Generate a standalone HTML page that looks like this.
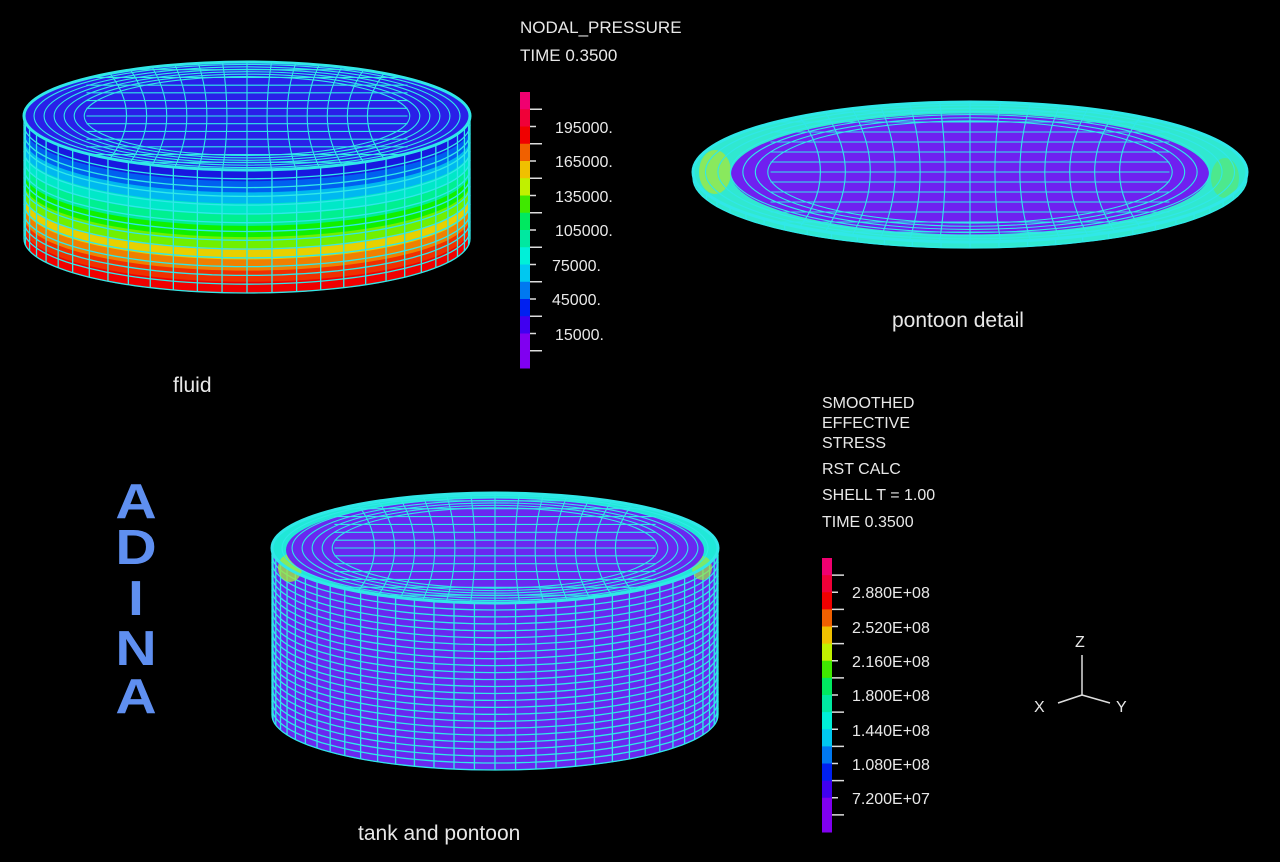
<!DOCTYPE html>
<html><head><meta charset="utf-8"><style>
html,body{margin:0;padding:0;background:#000;width:1280px;height:862px;overflow:hidden}
svg{display:block}
text{font-family:"Liberation Sans",sans-serif;fill:#e8e8e8}
</style></head><body>
<svg id="s" width="1280" height="862" xmlns="http://www.w3.org/2000/svg">
<rect width="1280" height="862" fill="#000"/>
<g id="g"></g>
<text x="520" y="33" font-size="17">NODAL_PRESSURE</text>
<text x="520" y="61" font-size="17">TIME 0.3500</text>
<text x="173" y="392" font-size="21">fluid</text>
<text x="892" y="327" font-size="21">pontoon detail</text>
<text x="358" y="840" font-size="21">tank and pontoon</text>
<text x="822" y="408" font-size="16">SMOOTHED</text>
<text x="822" y="428" font-size="16">EFFECTIVE</text>
<text x="822" y="448" font-size="16">STRESS</text>
<text x="822" y="474" font-size="16">RST CALC</text>
<text x="822" y="500" font-size="16">SHELL T = 1.00</text>
<text x="822" y="527" font-size="16">TIME 0.3500</text>
<g font-size="16">
<text x="555" y="133">195000.</text><text x="555" y="167">165000.</text>
<text x="555" y="202">135000.</text><text x="555" y="236">105000.</text>
<text x="552" y="271">75000.</text><text x="552" y="305">45000.</text>
<text x="555" y="340">15000.</text>
<text x="852" y="598">2.880E+08</text><text x="852" y="633">2.520E+08</text>
<text x="852" y="667">2.160E+08</text><text x="852" y="701">1.800E+08</text>
<text x="852" y="736">1.440E+08</text><text x="852" y="770">1.080E+08</text>
<text x="852" y="804">7.200E+07</text>
</g>
<g font-family="Liberation Sans" font-weight="bold" font-size="44" text-anchor="middle">
<text transform="translate(136,518) scale(1.3,1.12)" style="fill:#5f8ff0">A</text>
<text transform="translate(136,564) scale(1.3,1.12)" style="fill:#5f8ff0">D</text>
<text transform="translate(136,615) scale(1.3,1.12)" style="fill:#5f8ff0">I</text>
<text transform="translate(136,665) scale(1.3,1.12)" style="fill:#5f8ff0">N</text>
<text transform="translate(136,713) scale(1.3,1.12)" style="fill:#5f8ff0">A</text>
</g>
<g stroke="#ddd" stroke-width="1.5" fill="none">
<line x1="1082" y1="695" x2="1082" y2="655"/><line x1="1082" y1="695" x2="1058" y2="703"/><line x1="1082" y1="695" x2="1110" y2="703"/>
</g>
<text x="1075" y="647" font-size="16">Z</text>
<text x="1034" y="712" font-size="16">X</text>
<text x="1116" y="712" font-size="16">Y</text>
</svg>
<script>
(function(){
var g=document.getElementById('g'),NS='http://www.w3.org/2000/svg';
function el(t,a,parent){var e=document.createElementNS(NS,t);for(var k in a)e.setAttribute(k,a[k]);(parent||g).appendChild(e);return e;}
var C='#30e8e8';
function arc(cx,cy,rx,ry,n){var p=[];for(var i=0;i<=n;i++){var t=Math.PI*i/n;p.push([cx+rx*Math.cos(t),cy+ry*Math.sin(t)]);}return p;}
function pts(a){return a.map(function(q){return q[0].toFixed(1)+','+q[1].toFixed(1)}).join(' ');}
function side(cx,cy,rx,ry,h,bands,nv,nh){
 var nb=bands.length;
 for(var i=0;i<nb;i++){var y0=cy+h*i/nb,y1=cy+h*(i+1)/nb+0.5;
  var a=arc(cx,y0,rx,ry,60),b=arc(cx,y1,rx,ry,60).reverse();
  el('polygon',{points:pts(a.concat(b)),fill:bands[i]});}
 for(var j=0;j<=nh;j++){el('polyline',{points:pts(arc(cx,cy+h*j/nh,rx,ry,60)),fill:'none',stroke:C,'stroke-width':1.3});}
 for(var k=0;k<=nv;k++){var t=Math.PI*k/nv,x=cx+rx*Math.cos(t),y=cy+ry*Math.sin(t);
  el('line',{x1:x,y1:y,x2:x,y2:y+h,stroke:C,'stroke-width':1.3});}
}
function drawTop(cx,cy,rx,ry,fill,ring,ringW,extra){
 el('ellipse',{cx:cx,cy:cy,rx:rx,ry:ry,fill:ring||fill});
 if(extra)extra();
 if(ring)el('ellipse',{cx:cx,cy:cy+2,rx:rx-ringW,ry:ry-ringW*ry/rx,fill:fill});
 var id='c'+Math.round(cx)+'_'+Math.round(cy);
 var cp=el('clipPath',{id:id});
 el('ellipse',{cx:cx,cy:cy,rx:rx,ry:ry},cp);
 var gg=el('g',{'clip-path':'url(#'+id+')',stroke:C,'stroke-width':1.1,fill:'none'});
 for(var i=1;i<=6;i++){var s=1-i*0.045;el('ellipse',{cx:cx,cy:cy,rx:rx*s,ry:ry*s},gg);}
 for(var y=cy-ry;y<cy+ry;y+=ry/7){el('line',{x1:cx-rx*0.72,x2:cx+rx*0.72,y1:y,y2:y},gg);}
 for(var k=-6;k<=6;k++){var x=cx+k*rx*0.11,b=k*rx*0.02;
  el('path',{d:'M'+x+','+(cy-ry)+' Q'+(x-b*2)+','+cy+' '+x+','+(cy+ry)},gg);}
 el('ellipse',{cx:cx,cy:cy,rx:rx,ry:ry,fill:'none',stroke:C,'stroke-width':3});
}
side(247,116,223,54,123,['#1818e0','#0060f0','#00b8f0','#00e8c8','#00f090','#10f000','#70f000','#e8d000','#f08000','#f03000','#f00000'],28,14);
drawTop(247,116,223,54,'#2a20e8');
side(970,172,277,70,6,['#30e8d0'],30,1);
drawTop(970,172,277,70,'#7020f0','#30e8d0',38,function(){
 el('ellipse',{cx:715,cy:172,rx:16,ry:22,fill:'#a0e840',opacity:0.8});
 el('ellipse',{cx:1225,cy:178,rx:14,ry:20,fill:'#60e860',opacity:0.6});
});
side(495,548,223,55,167,['#6a28f0'],34,24);
drawTop(495,548,223,55,'#6a28f0','#20e8d8',14,function(){
 el('ellipse',{cx:290,cy:568,rx:12,ry:14,fill:'#a0e840',opacity:0.8});
 el('ellipse',{cx:702,cy:568,rx:10,ry:12,fill:'#a0e840',opacity:0.7});
});
function legend(x,y0,h,cols){var n=cols.length;for(var i=0;i<n;i++)el('rect',{x:x,y:y0+h*i/n,width:10,height:h/n+0.5,fill:cols[i]});
 for(var j=1;j<n;j++){var yy=y0+h*j/n;el('line',{x1:x+10,x2:x+(j%2?22:16),y1:yy,y2:yy,stroke:'#ddd','stroke-width':1.5});}}
var cols=['#f00070','#f00038','#f00000','#f06000','#f0c000','#c0f000','#40e800','#00e860','#00e8a0','#00f0d8','#00c8f0','#0078f0','#0020f0','#4000f0','#8000f0','#8000f0'];
legend(520,92,276,cols);
legend(822,558,274,cols);
})();
</script>
</body></html>
